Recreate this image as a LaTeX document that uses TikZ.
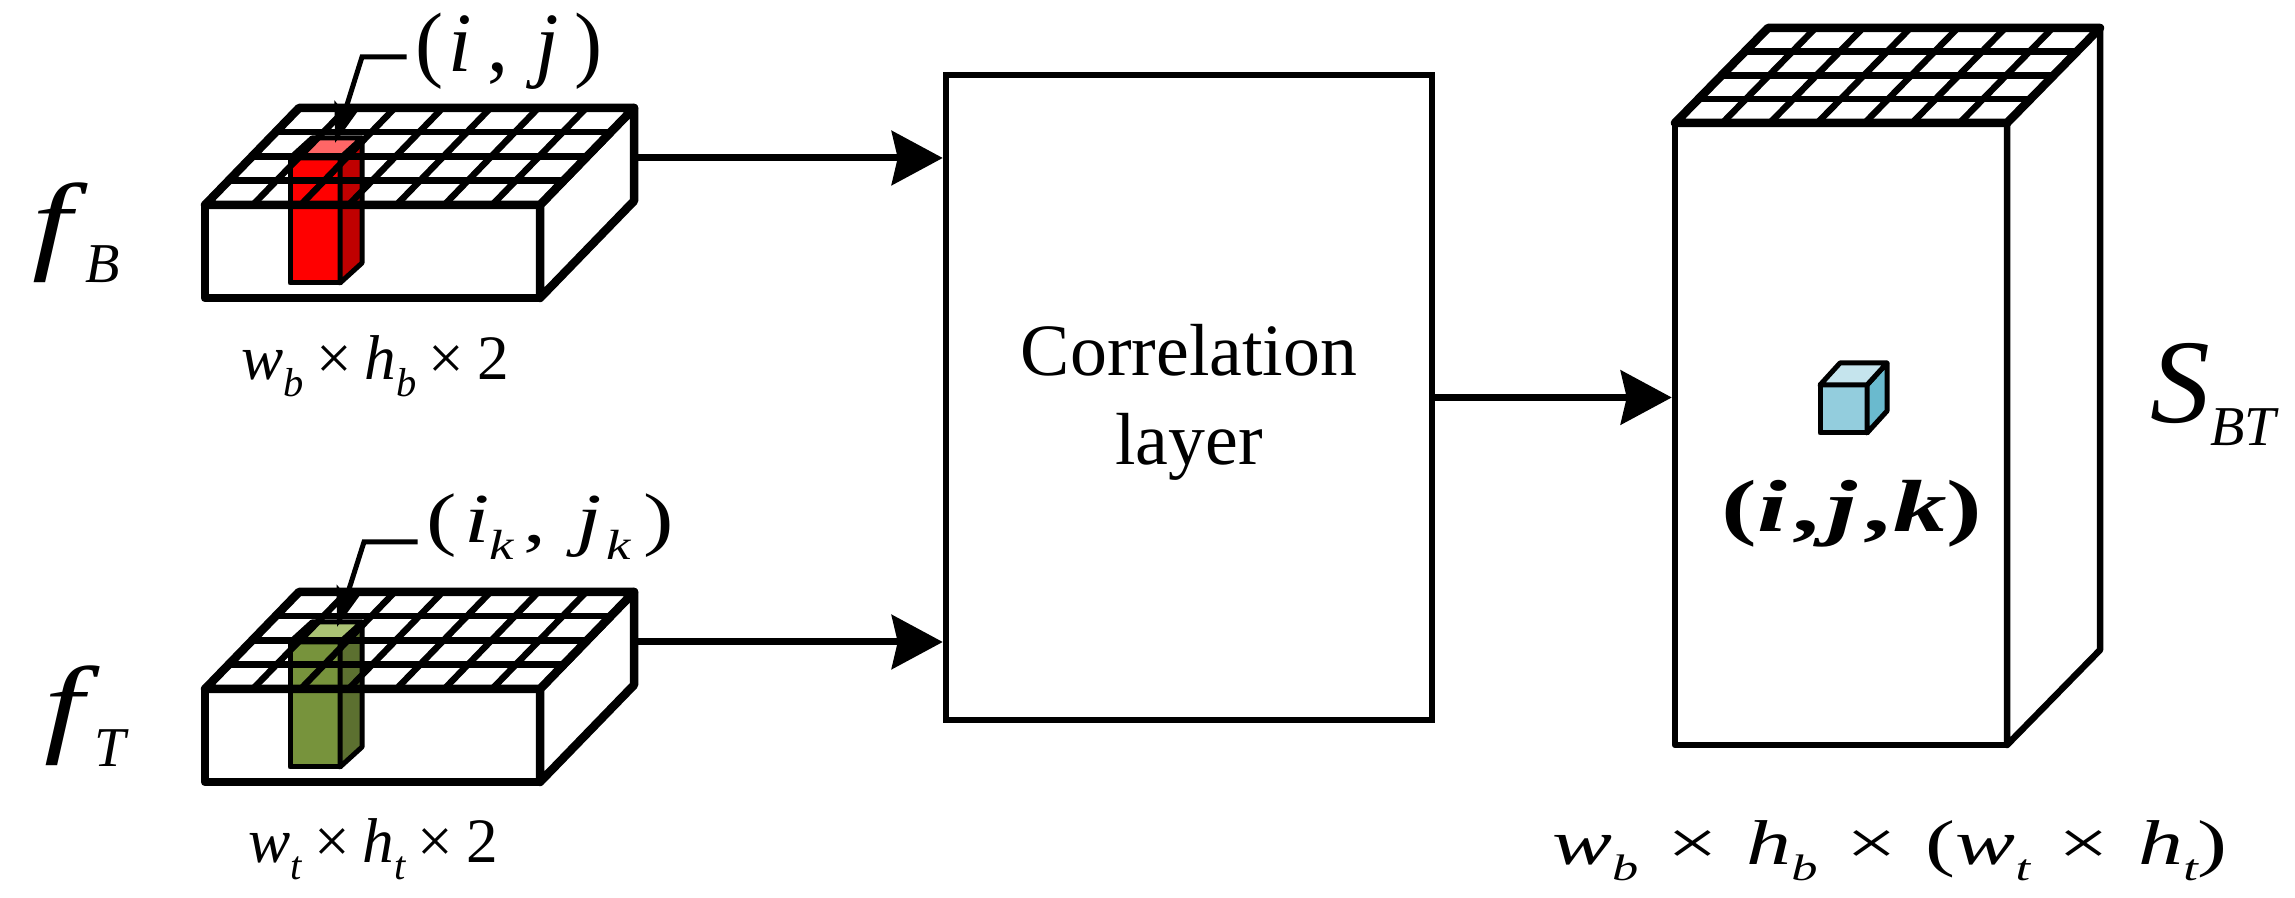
\documentclass[tikz,border=0pt]{standalone}
\usepackage{fontspec}
\setmainfont{LiberationSerif}[Extension=.ttf, UprightFont=*-Regular, ItalicFont=*-Italic, BoldFont=*-Bold, BoldItalicFont=*-BoldItalic]
\usetikzlibrary{arrows.meta,calc}
\newcommand\myfs[1]{\fontsize{#1}{#1}\selectfont}
\newcommand\msub[3]{\raisebox{-#1}{\myfs{#2}\itshape #3}}
\newcommand\tmx{\kern0.2em×\kern0.2em}
\newcommand\tmw{\kern0.32em×\kern0.32em}
\definecolor{redF}{HTML}{FF0000}
\definecolor{redS}{HTML}{C00000}
\definecolor{redT}{HTML}{FF6666}
\definecolor{grnF}{HTML}{77933C}
\definecolor{grnS}{HTML}{5C7030}
\definecolor{grnT}{HTML}{ABC374}
\definecolor{cubF}{HTML}{93CDDD}
\definecolor{cubS}{HTML}{6ABACE}
\definecolor{cubT}{HTML}{C5E4ED}
\tikzset{
  edge/.style={line width=0.85mm, line join=round, line cap=round},
  sedge/.style={line width=0.65mm, line join=round, line cap=round},
  gridl/.style={line width=0.65mm},
  arr/.style={line width=0.7mm, -{Stealth[length=5.1mm,width=5.4mm,inset=0.6mm]}},
  ptr/.style={line width=0.5mm, -{Stealth[length=4mm,width=2.6mm,inset=0.8mm]}},
  prism/.style={line width=0.5mm, line join=round},
  lbl/.style={inner sep=0pt, anchor=base},
}
\newcommand\topgrid[1]{%
  \foreach \t in {1,2,3} \draw[gridl] ($(FL)!\t/4!(BL)$) -- ($(FR)!\t/4!(BR)$);
  \foreach \s in {1,...,6} \draw[gridl] ($(FL)!\s/7!(FR)$) -- ($(BL)!\s/7!(BR)$);
  \draw[#1] (FL) -- (FR) -- (BR) -- (BL) -- cycle;
}
\newcommand\featbox[3]{%
  \coordinate (FL) at (205,205); \coordinate (FR) at (540,205);
  \coordinate (BL) at (299,108); \coordinate (BR) at (634,108);
  \coordinate (FLb) at (205,298); \coordinate (FRb) at (540,298);
  \coordinate (BRb) at (634,201);
  \filldraw[edge, fill=white] (FL) rectangle (FRb);
  \filldraw[edge, fill=white] (FR) -- (BR) -- (BRb) -- (FRb) -- cycle;
  \fill[white] (FL) -- (FR) -- (BR) -- (BL) -- cycle;
  \filldraw[prism, fill=#1] (290,158) rectangle (340,283);
  \filldraw[prism, fill=#2] (340,158) -- (362,138) -- (362,263) -- (340,283) -- cycle;
  \filldraw[prism, fill=#3] (290,158) -- (340,158) -- (362,138) -- (312,138) -- cycle;
  \topgrid{edge}
}
\begin{document}
\begin{tikzpicture}[x=0.1mm,y=-0.1mm]
\useasboundingbox (0,0) rectangle (2295,898);
\fill[white] (0,0) rectangle (2295,898);

% ---------- f_B ----------
\featbox{redF}{redS}{redT}
\coordinate (fbout) at (634,158);
\coordinate (fbtip) at (335,143);
\node[lbl] (lij) at (509,72) {\myfs{24}(\kern0.06em\textit{i}\kern0.18em,\kern0.33em\textit{j}\kern0.18em)};
\draw[ptr] (lij.west |- 0,57) ++(-8,0) -- (362,57) -- (fbtip);
\node[lbl, anchor=base west] (fB) at (32,260) {\scalebox{1.3}[1]{\myfs{31}\textit{f}}\kern-0.3mm\msub{6.5pt}{16}{B}};
\node[lbl] (dimB) at (375,380) {\myfs{18}\textit{w}\msub{4.8pt}{11.5}{b}\tmx\textit{h}\msub{4.8pt}{11.5}{b}\tmx 2};

% ---------- f_T ----------
\begin{scope}[shift={(0,484)}]
\featbox{grnF}{grnS}{grnT}
\end{scope}
\coordinate (ftout) at (634,642);
\coordinate (fttip) at (337,627);
\node[lbl] (likjk) at (550,543) {\scalebox{1.3}[1]{\myfs{20}(\kern0.08em\textit{i}\msub{4.8pt}{12}{k}\kern0.1em,\kern0.33em\textit{j}\kern0.05em\msub{4.8pt}{12}{k}\kern0.14em)}};
\draw[ptr] (likjk.west |- 0,542) ++(-8,0) -- (364,542) -- (fttip);
\node[lbl, anchor=base west] (fT) at (44,743) {\scalebox{1.3}[1]{\myfs{31}\textit{f}}\kern-0.6mm\msub{6.8pt}{16}{T}};
\node[lbl] (dimT) at (373,863) {\myfs{18}\textit{w}\msub{4.8pt}{11.5}{t}\tmx\textit{h}\msub{4.8pt}{11.5}{t}\tmx 2};

% ---------- correlation ----------
\node[draw, line width=0.65mm, minimum width=48.6mm, minimum height=64.5mm, inner sep=0pt] (corr) at (1189,397.5) {};
\node[inner sep=0pt, align=center, font=\fontsize{21}{25.3}\selectfont] (corrtxt) at (1189,402) {Correlation\\layer};
\draw[arr] (fbout) -- (fbout -| corr.west);
\draw[arr] (ftout) -- (ftout -| corr.west);

% ---------- S_BT ----------
\coordinate (FL) at (1675,123); \coordinate (FR) at (2007,123);
\coordinate (BL) at (1768,28); \coordinate (BR) at (2100,28);
\coordinate (FRb) at (2007,745); \coordinate (BRb) at (2100,650);
\node[draw, sedge, fill=white, minimum width=33.2mm, minimum height=62.2mm, inner sep=0pt] (sbox) at (1841,434) {};
\filldraw[sedge, fill=white] (FR) -- (BR) -- (BRb) -- (FRb) -- cycle;
\fill[white] (FL) -- (FR) -- (BR) -- (BL) -- cycle;
\topgrid{edge}
\draw[arr] (corr.east) -- (corr.east -| sbox.west);
% small cube
\filldraw[prism, fill=cubF] (1820,385) rectangle (1867,433);
\filldraw[prism, fill=cubS] (1867,385) -- (1887,363) -- (1887,411) -- (1867,433) -- cycle;
\filldraw[prism, fill=cubT] (1820,385) -- (1867,385) -- (1887,363) -- (1840,363) -- cycle;
\node[lbl] (ijk) at (1852,532) {\scalebox{1.45}[1]{\myfs{21}\bfseries(\textit{i}\kern0.05em,\kern0.08em\textit{j}\kern0.05em,\kern0.03em\textit{k})}};
\node[lbl, anchor=base west] (sbt) at (2150,423) {\myfs{34}\textit{S}\msub{6.3pt}{16}{BT}};
\node[lbl] (dimS) at (1890,865) {\scalebox{1.42}[1]{\myfs{18}\textit{w}\msub{4.3pt}{10.5}{b}\tmw\textit{h}\msub{4.3pt}{10.5}{b}\tmw(\textit{w}\msub{4.3pt}{10.5}{t}\tmw\textit{h}\msub{4.3pt}{10.5}{t})}};
\end{tikzpicture}
\end{document}
